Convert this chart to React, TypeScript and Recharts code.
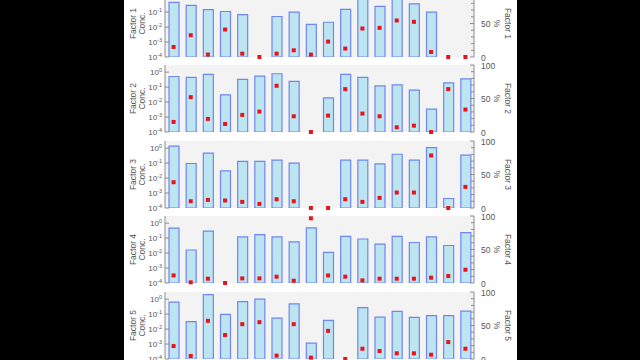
import { Bar, CartesianGrid, ComposedChart, Scatter, XAxis, YAxis } from "recharts";

// species on the shared x axis (labels are cut off in the picture)
const species = [
  "S1", "S2", "S3", "S4", "S5", "S6", "S7", "S8", "S9",
  "S10", "S11", "S12", "S13", "S14", "S15", "S16", "S17", "S18",
];

const factorNames = ["Factor 1", "Factor 2", "Factor 3", "Factor 4", "Factor 5"];

// concentration per factor (log axis), null = no bar
const f1Conc = [0.45, 0.28, 0.145, 0.11, 0.068, null, 0.051, 0.1, 0.015, 0.021, 0.15, 1.0, 0.24, 1.0, 0.36, 0.1, null, null];
const f2Conc = [0.51, 0.45, 0.7, 0.03, 0.33, 0.54, 0.78, 0.24, null, 0.019, 0.7, 0.45, 0.12, 0.14, 0.063, 0.0034, 0.19, 0.36];
const f3Conc = [1.35, 0.094, 0.46, 0.03, 0.13, 0.13, 0.156, 0.1, null, null, 0.156, 0.156, 0.089, 0.39, 0.156, 1.07, 0.00043, 0.34];
const f4Conc = [0.46, 0.016, 0.29, null, 0.12, 0.17, 0.12, 0.056, 0.48, 0.011, 0.13, 0.087, 0.04, 0.13, 0.051, 0.12, 0.032, 0.23];
const f5Conc = [0.63, 0.031, 2.0, 0.095, 0.68, 1.0, 0.054, 0.49, 0.00115, 0.038, null, 0.27, 0.063, 0.15, 0.06, 0.078, 0.078, 0.16];

// percent of species per factor (right axis)
const f1Pct = [15, 32.5, 3.6, 41, 5, 0, 5, 10, 3.6, 23, 12.6, 42.5, 43.5, 54.5, 52.5, 7.5, 0, 0];
const f2Pct = [15, 52, 19.5, 12, 25.5, 30.5, 69, 23.5, 0, 24.5, 64, 27.5, 23.5, 7, 9.5, 0, 64, 33.5];
const f3Pct = [38.5, 10.1, 12.1, 11.2, 9.1, 6.1, 13.1, 10.1, 0, 0, 13.1, 9.1, 15.1, 23.1, 23.1, 78.4, 0, 31.5];
const f4Pct = [11.3, 1, 6.4, 0, 6.9, 6.9, 9.4, 3.4, 96.6, 11.3, 9.4, 3.9, 6.4, 6.4, 6.4, 7.9, 10.4, 19.8];
const f5Pct = [19.3, 4.5, 57, 35.7, 52, 55, 5, 52, 2, 42, 0, 15.3, 11.9, 8.5, 8.5, 6.4, 25.3, 15.3];

const concTicks = [0.0001, 0.001, 0.01, 0.1, 1];
const pctTicks = [0, 10, 20, 30, 40, 50, 60, 70, 80, 90, 100];

const concs = [f1Conc, f2Conc, f3Conc, f4Conc, f5Conc];
const pcts = [f1Pct, f2Pct, f3Pct, f4Pct, f5Pct];

const PLOT_H = 67;
const MT = 2;
const MB = 4;
const PANEL_TOPS = [-10, 65.4, 140.8, 216.2, 291.6];
const FRAME = "#8c8c8c";
const TXT = "#555";

function LogTick(props: any) {
  const { x, y, payload } = props;
  const exp = Math.round(Math.log10(payload.value));
  return (
    <g>
      <line x1={x} x2={x + 4} y1={y} y2={y} stroke={FRAME} />
      <text x={x - 3} y={y + 3} textAnchor="end" fontSize={8} fill={TXT}>
        10
        <tspan dy={-3.5} fontSize={5.5}>
          {exp}
        </tspan>
      </text>
    </g>
  );
}

function PctTick(props: any) {
  const { x, y, payload } = props;
  const major = payload.value % 50 === 0;
  return (
    <g>
      <line x1={x - (major ? 4 : 3)} x2={x} y1={y} y2={y} stroke={FRAME} />
      {major && (
        <text x={x + 7} y={y + 3.5} fontSize={8.5} fill={TXT}>
          {payload.value}
        </text>
      )}
    </g>
  );
}

function BottomTick(props: any) {
  const { x, y } = props;
  return <line x1={x} x2={x} y1={y} y2={y + 3} stroke={FRAME} />;
}

function Square(props: any) {
  const { cx, cy } = props;
  return <rect x={cx - 2} y={cy - 2} width={4} height={4} fill="#e8141c" />;
}

function Panel({ index }: { index: number }) {
  const rows = species.map((s, i) => ({ name: s, conc: concs[index][i], pct: pcts[index][i] }));
  const last = index === concs.length - 1;
  const name = factorNames[index];
  const cy = MT + PLOT_H / 2;
  return (
    <div style={{ position: "absolute", left: 0, top: PANEL_TOPS[index] - MT }}>
      <ComposedChart
        width={393}
        height={PLOT_H + MT + MB}
        data={rows}
        margin={{ top: MT, right: 0, bottom: MB, left: 0 }}
      >
        <CartesianGrid xAxisId="bottom" yAxisId="left" fill="#f3f3f3" vertical={false} horizontal={false} />
        <XAxis
          xAxisId="bottom"
          dataKey="name"
          height={0}
          interval={0}
          tickSize={0}
          tickMargin={0}
          tickLine={false}
          tick={last ? <BottomTick /> : false}
          axisLine={{ stroke: FRAME }}
        />
        <XAxis
          xAxisId="top"
          dataKey="name"
          orientation="top"
          height={0}
          tick={false}
          tickLine={false}
          axisLine={{ stroke: FRAME }}
        />
        <YAxis
          yAxisId="left"
          scale="log"
          domain={[0.0001, 3]}
          allowDataOverflow
          ticks={concTicks}
          interval={0}
          width={41}
          tickSize={0}
          tickMargin={0}
          tickLine={false}
          tick={<LogTick />}
          axisLine={{ stroke: FRAME }}
          label={() => (
            <g fontSize={8.5} fill={TXT}>
              <text transform={`rotate(-90 9 ${cy})`} x={9} y={cy} textAnchor="middle" dominantBaseline="central">
                {name}
              </text>
              <text transform={`rotate(-90 18 ${cy})`} x={18} y={cy} textAnchor="middle" dominantBaseline="central">
                Conc.
              </text>
            </g>
          )}
        />
        <YAxis
          yAxisId="right"
          orientation="right"
          domain={[0, 100]}
          ticks={pctTicks}
          interval={0}
          width={43}
          tickSize={0}
          tickMargin={0}
          tickLine={false}
          tick={<PctTick />}
          axisLine={{ stroke: FRAME }}
          label={() => (
            <g fontSize={8.5} fill={TXT}>
              <text transform={`rotate(90 384 ${cy})`} x={384} y={cy} textAnchor="middle" dominantBaseline="central">
                {name}
              </text>
              <text transform={`rotate(90 373 ${cy})`} x={373} y={cy} textAnchor="middle" dominantBaseline="central">
                %
              </text>
            </g>
          )}
        />
        <Bar
          xAxisId="bottom"
          yAxisId="left"
          dataKey="conc"
          barSize={10}
          fill="#bce5f1"
          stroke="#6f86f0"
          strokeWidth={1.2}
          isAnimationActive={false}
        />
        <Scatter
          xAxisId="bottom"
          yAxisId="right"
          dataKey="pct"
          shape={<Square />}
          isAnimationActive={false}
        />
      </ComposedChart>
    </div>
  );
}

export default function App() {
  return (
    <div
      style={{
        position: "absolute",
        left: 0,
        top: 0,
        width: 640,
        height: 360,
        overflow: "hidden",
        background: "#000",
        fontFamily: "'Liberation Sans', Arial, sans-serif",
      }}
    >
      <div style={{ position: "absolute", left: 124, top: 0, width: 393, height: 360, background: "#fff", overflow: "hidden" }}>
        {factorNames.map((_, i) => (
          <Panel key={i} index={i} />
        ))}
      </div>
    </div>
  );
}
